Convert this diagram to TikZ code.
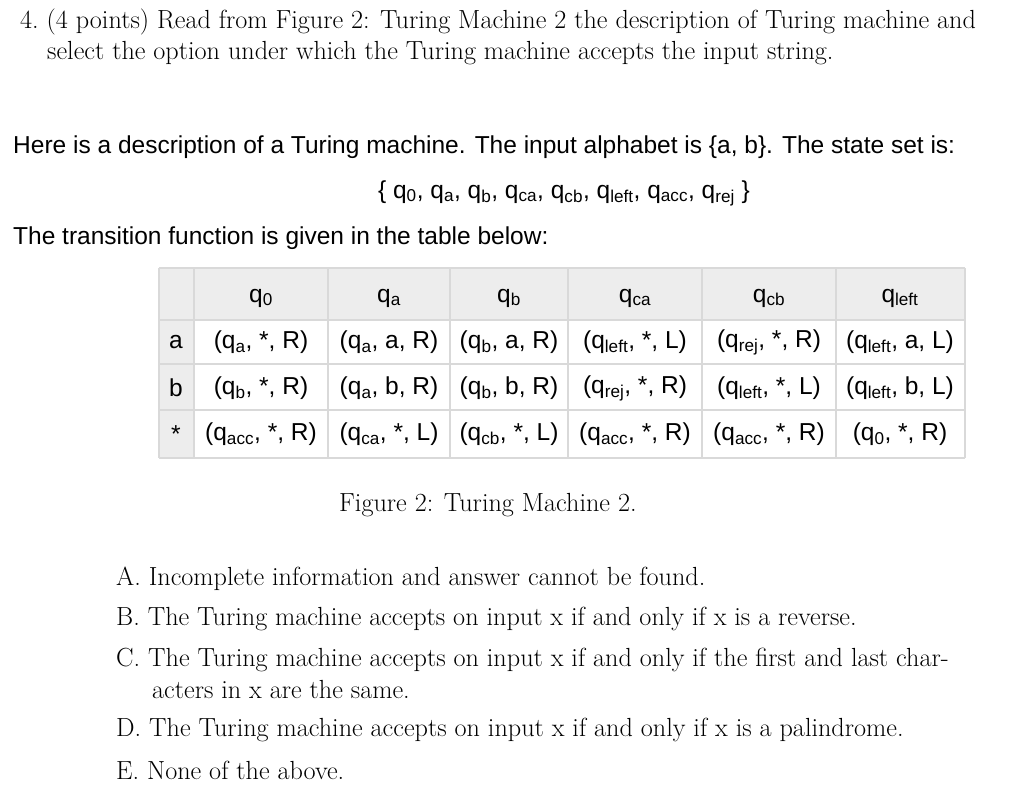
\documentclass[tikz,border=0pt]{standalone}
\usepackage{fontspec}
\newfontfamily\arial{Liberation Sans}
\newcommand{\qq}[1]{q\textsubscript{#1}}
\begin{document}
\begin{tikzpicture}[x=1pt,y=-1pt,
  serif/.style={anchor=west,inner sep=0,font=\fontsize{26.2}{30}\selectfont},
  sans/.style={anchor=west,inner sep=0,font=\arial\fontsize{24.5}{28}\selectfont},
  cell/.style={anchor=center,inner sep=0,font=\arial\fontsize{24.5}{28}\selectfont},
  grid/.style={draw=black!15,line width=1.5pt}]
\useasboundingbox (0,0) rectangle (1024,798);
\fill[white] (0,0) rectangle (1024,798);
\node[serif] (l1) at (20,22) {4.\ (4 points) Read from Figure 2: Turing Machine 2 the description of Turing machine and};
\node[serif] (l2) at (47,53) {select the option under which the Turing machine accepts the input string.};
\node[sans] (d1) at (13,147) {Here is a description of a Turing machine. The input alphabet is \{a, b\}. The state set is:};
\node[cell] (d2) at (564,193) {\{ \qq{0}, \qq{a}, \qq{b}, \qq{ca}, \qq{cb}, \qq{left}, \qq{acc}, \qq{rej} \}};
\node[sans] (d3) at (13,238) {The transition function is given in the table below:};
% table
\fill[black!7] (159,268) rectangle (965,320);
\fill[black!7] (159,320) rectangle (194,458);
\foreach \y in {268,320,364,410,458} \draw[grid] (159,\y) -- (965,\y);
\foreach \x in {159,194,328,450,568,702,836,965} \draw[grid] (\x,268) -- (\x,458);
\foreach \x/\t in {261/\qq{0},389/\qq{a},509/\qq{b},635/\qq{ca},769/\qq{cb},900/\qq{left}}
  \node[cell] at (\x,298) {\t};
\node[cell] at (176,342) {a};
\node[cell] at (176,388) {b};
\node[cell] at (176,434) {*};
\foreach \x/\t in {261/{(\qq{a}, *, R)},389/{(\qq{a}, a, R)},509/{(\qq{b}, a, R)},635/{(\qq{left}, *, L)},769/{(\qq{rej}, *, R)},900/{(\qq{left}, a, L)}}
  \node[cell] at (\x,342) {\t};
\foreach \x/\t in {261/{(\qq{b}, *, R)},389/{(\qq{a}, b, R)},509/{(\qq{b}, b, R)},635/{(\qq{rej}, *, R)},769/{(\qq{left}, *, L)},900/{(\qq{left}, b, L)}}
  \node[cell] at (\x,388) {\t};
\foreach \x/\t in {261/{(\qq{acc}, *, R)},389/{(\qq{ca}, *, L)},509/{(\qq{cb}, *, L)},635/{(\qq{acc}, *, R)},769/{(\qq{acc}, *, R)},900/{(\qq{0}, *, R)}}
  \node[cell] at (\x,434) {\t};
\node[serif] (cap) at (339,505) {Figure 2: Turing Machine 2.};
\node[serif] (a) at (116,579) {A.\ Incomplete information and answer cannot be found.};
\node[serif] (b) at (116,619) {B.\ The Turing machine accepts on input x if and only if x is a reverse.};
\node[serif] (c) at (116,660) {C.\ The Turing machine accepts on input x if and only if the first and last char-};
\node[serif] (c2) at (152,690) {acters in x are the same.};
\node[serif] (dd) at (116,730) {D.\ The Turing machine accepts on input x if and only if x is a palindrome.};
\node[serif] (e) at (116,770) {E.\ None of the above.};
\end{tikzpicture}
\end{document}
